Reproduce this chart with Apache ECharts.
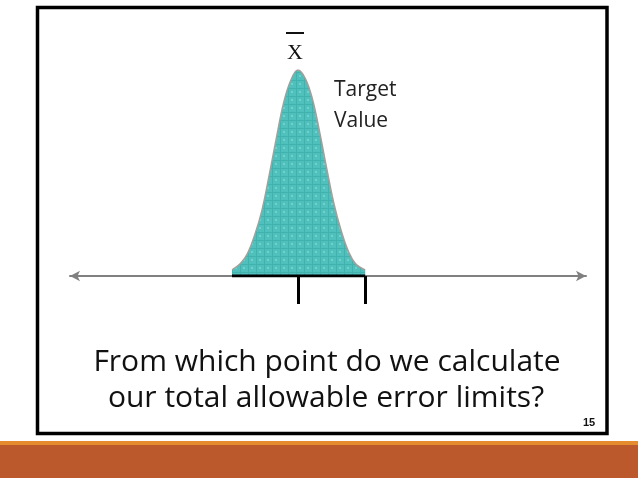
<!DOCTYPE html>
<html>
<head>
<meta charset="utf-8">
<script src="https://cdn.jsdelivr.net/npm/echarts@6/dist/echarts.min.js"></script>
<style>
html,body{margin:0;padding:0;background:#fff;}
#chart{width:638px;height:478px;}
</style>
</head>
<body>
<div id="chart"></div>
<script>
// Curve: x in spread units (0 = target value), y = height in % of peak
const curveX = [-2.75, -2.4, -2.1, -1.8, -1.5, -1.2, -0.9, -0.6, -0.3, 0, 0.3, 0.6, 0.9, 1.2, 1.5, 1.8, 2.1, 2.4, 2.8];
const curveY = [3, 6, 11, 20, 32, 49, 67, 84, 95, 100, 96, 86, 70, 52, 35, 22, 12, 6, 3];
const tickValues = [0, 2.8];
const baseSegment = [-2.75, 2.8];
const meanLabel = 'X';
const targetLines = ['Target', 'Value'];
const questionLines = ['From which point do we calculate', 'our total allowable error limits?'];
const pageNumber = '15';

// texture pattern for the fill
const pat = document.createElement('canvas');
pat.width = 8; pat.height = 8;
const pc = pat.getContext('2d');
pc.fillStyle = '#4fc0bc'; pc.fillRect(0, 0, 8, 8);
pc.fillStyle = '#42b2ae'; pc.fillRect(0, 0, 8, 1); pc.fillRect(0, 0, 1, 8);
pc.fillStyle = '#6fd0cc'; pc.fillRect(3, 3, 2, 2);

const chart = echarts.init(document.getElementById('chart'), null, {renderer: 'canvas'});
chart.setOption({
  backgroundColor: '#ffffff',
  animation: false,
  grid: {left: 70, right: 52, top: 70, height: 206},
  xAxis: {
    type: 'value', min: -9.5, max: 12.0,
    axisLine: {show: true, symbol: ['arrow', 'arrow'], symbolSize: [8, 10],
      lineStyle: {color: '#808080', width: 2}},
    axisTick: {show: true, customValues: tickValues, length: 28, inside: false,
      lineStyle: {color: '#000', width: 3}},
    axisLabel: {show: false},
    splitLine: {show: false}
  },
  yAxis: {type: 'value', min: 0, max: 100, show: false, splitLine: {show: false}},
  series: [
    {
      type: 'line', smooth: 0.4, symbol: 'none',
      data: curveX.map((x, i) => [x, curveY[i]]),
      lineStyle: {color: '#a3a09c', width: 1.5},
      areaStyle: {color: {image: pat, repeat: 'repeat'}, opacity: 1},
      z: 3
    },
    {
      type: 'line', symbol: 'none',
      data: baseSegment.map(x => [x, 0]),
      lineStyle: {color: '#000', width: 3},
      z: 4
    }
  ],
  graphic: [
    {type: 'rect', shape: {x: 37.5, y: 7.5, width: 569.5, height: 426}, style: {fill: 'none', stroke: '#000', lineWidth: 3.5}, z: 10},
    {type: 'rect', shape: {x: 0, y: 441, width: 638, height: 4}, style: {fill: '#e58c2e'}, z: 10},
    {type: 'rect', shape: {x: 0, y: 445, width: 638, height: 33}, style: {fill: '#bc592c'}, z: 10},
    {type: 'text', x: 295, y: 53, style: {text: meanLabel, font: '22px "Liberation Serif"', fill: '#111', align: 'center', verticalAlign: 'middle'}, z: 10},
    {type: 'line', shape: {x1: 286, y1: 33, x2: 304, y2: 33}, style: {stroke: '#111', lineWidth: 2}, z: 10},
    {type: 'text', x: 334, y: 90, style: {text: targetLines[0], font: '21px "Open Sans"', fill: '#222', align: 'left', verticalAlign: 'middle'}, z: 10},
    {type: 'text', x: 334, y: 121, style: {text: targetLines[1], font: '21px "Open Sans"', fill: '#222', align: 'left', verticalAlign: 'middle'}, z: 10},
    {type: 'text', x: 327, y: 362, style: {text: questionLines[0], font: '30px "Open Sans"', fill: '#111', align: 'center', verticalAlign: 'middle'}, z: 10},
    {type: 'text', x: 326, y: 398, style: {text: questionLines[1], font: '30px "Open Sans"', fill: '#111', align: 'center', verticalAlign: 'middle'}, z: 10},
    {type: 'text', x: 589, y: 423, style: {text: pageNumber, font: 'bold 11px "Liberation Sans"', fill: '#111', align: 'center', verticalAlign: 'middle'}, z: 10}
  ]
});
</script>
</body>
</html>
